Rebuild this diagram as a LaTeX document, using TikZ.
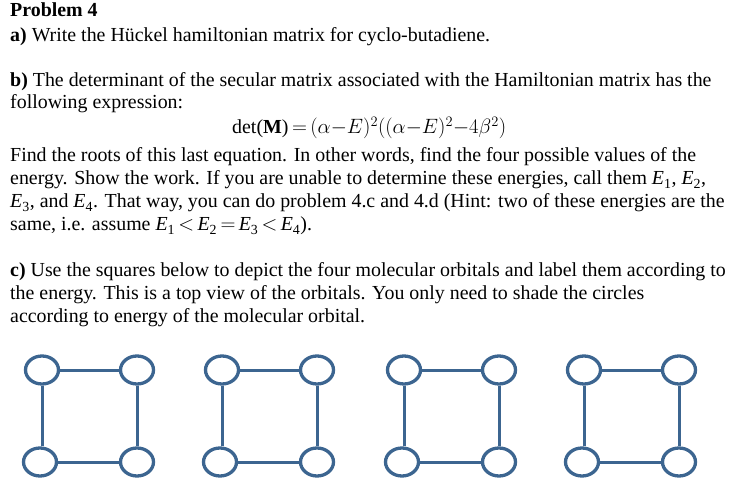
\documentclass[tikz,border=0pt]{standalone}
\usepackage{fontspec}
\setmainfont{Liberation Serif}
\usepackage{amsmath}
\usetikzlibrary{shapes.geometric}
\begin{document}
\begin{tikzpicture}[x=1pt,y=-1pt,
  txt/.style={anchor=base west,inner sep=0pt,font=\fontsize{19.9}{23}\selectfont},
  orb/.style={draw=orbc,line width=3.3pt,ellipse,minimum width=33pt,minimum height=28pt,inner sep=0pt},
  bond/.style={draw=orbc,line width=3pt}]
\definecolor{orbc}{HTML}{3C6590}
\useasboundingbox (0,0) rectangle (753,489);
\node[txt] (l1) at (10,17) {\textbf{Problem 4}};
\node[txt] (l2) at (10,42) {\textbf{a)} Write the Hückel hamiltonian matrix for cyclo-butadiene.};
\node[txt] (l3) at (10,87) {\textbf{b)} The determinant of the secular matrix associated with the Hamiltonian matrix has the};
\node[txt] (l4) at (10,109) {following expression:};
\node[txt] (l5) at (232,134) {det(\textbf{M})$\,{=}\,(\alpha{-}E)^2((\alpha{-}E)^2{-}4\beta^2)$};
\node[txt] (l6) at (10,162) {Find the roots of this last equation. In other words, find the four possible values of the};
\node[txt] (l7) at (10,185) {energy. Show the work. If you are unable to determine these energies, call them \textit{E}\textsubscript{1}, \textit{E}\textsubscript{2},};
\node[txt] (l8) at (10,208) {\textit{E}\textsubscript{3}, and \textit{E}\textsubscript{4}. That way, you can do problem 4.c and 4.d (Hint: two of these energies are the};
\node[txt] (l9) at (10,231) {same, i.e. assume \textit{E}\textsubscript{1}\,$<$\,\textit{E}\textsubscript{2}\,$=$\,\textit{E}\textsubscript{3}\,$<$\,\textit{E}\textsubscript{4}).};
\node[txt] (l10) at (10,277) {\textbf{c)} Use the squares below to depict the four molecular orbitals and label them according to};
\node[txt] (l11) at (10,300) {the energy. This is a top view of the orbitals. You only need to shade the circles};
\node[txt] (l12) at (10,323) {according to energy of the molecular orbital.};
\foreach \i/\dx in {1/0,2/180,3/362,4/542}{
  \node[orb] (tl\i) at (42+\dx,370) {};
  \node[orb] (tr\i) at (137+\dx,370) {};
  \node[orb] (bl\i) at (40+\dx,462) {};
  \node[orb] (br\i) at (137+\dx,462) {};
  \draw[bond] (tl\i) -- (tr\i);
  \draw[bond] (bl\i) -- (br\i);
  \draw[bond] (tl\i.south) -- (tl\i.south |- bl\i.north);
  \draw[bond] (tr\i) -- (br\i);
}
\end{tikzpicture}
\end{document}
